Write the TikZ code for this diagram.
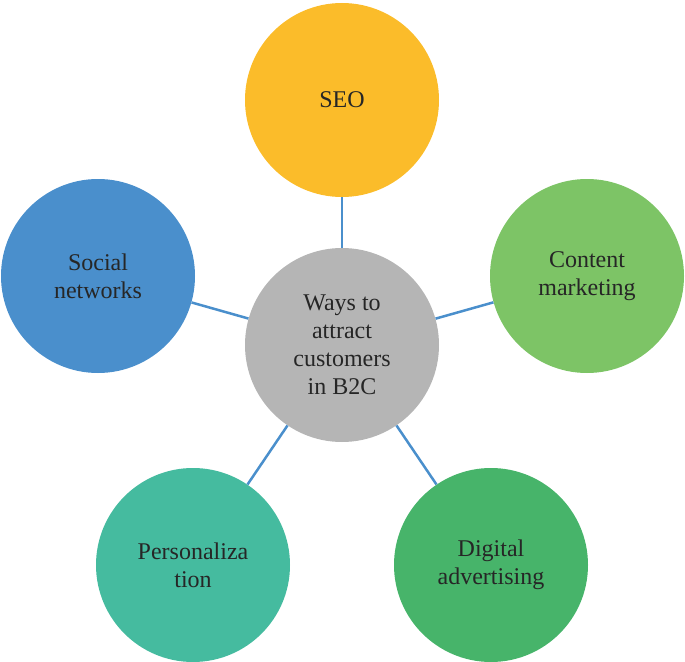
\documentclass[tikz,border=0pt]{standalone}
\usepackage{fontspec}
\setmainfont{Liberation Serif}
\usetikzlibrary{positioning}
\definecolor{seoC}{HTML}{FBBC2A}
\definecolor{contentC}{HTML}{7DC466}
\definecolor{digitalC}{HTML}{47B46A}
\definecolor{persC}{HTML}{45BB9F}
\definecolor{socialC}{HTML}{4A8FCC}
\definecolor{hubC}{HTML}{B5B5B5}
\tikzset{
  way/.style={circle, minimum size=194pt, inner sep=0pt, align=center,
    font=\fontsize{24}{28}\selectfont, text=black!85},
  link/.style={draw=socialC, line width=2.5pt}
}
\begin{document}
\begin{tikzpicture}[x=1pt, y=-1pt]
  \useasboundingbox (0,0) rectangle (685,661);
  \node[way, fill=hubC]      (hub)  at (342,345) {Ways to\\attract\\customers\\in B2C};
  \node[way, fill=seoC]      (seo)  at (342,100) {SEO};
  \node[way, fill=contentC]  (cont) at (587,276) {Content\\marketing};
  \node[way, fill=digitalC]  (dig)  at (491,565) {Digital\\advertising};
  \node[way, fill=persC]     (pers) at (193,565) {Personaliza\\tion};
  \node[way, fill=socialC]   (soc)  at (98,276)  {Social\\networks};

  \foreach \n in {seo, cont, dig, pers, soc}
    \draw[link] (hub) -- (\n);
\end{tikzpicture}
\end{document}
